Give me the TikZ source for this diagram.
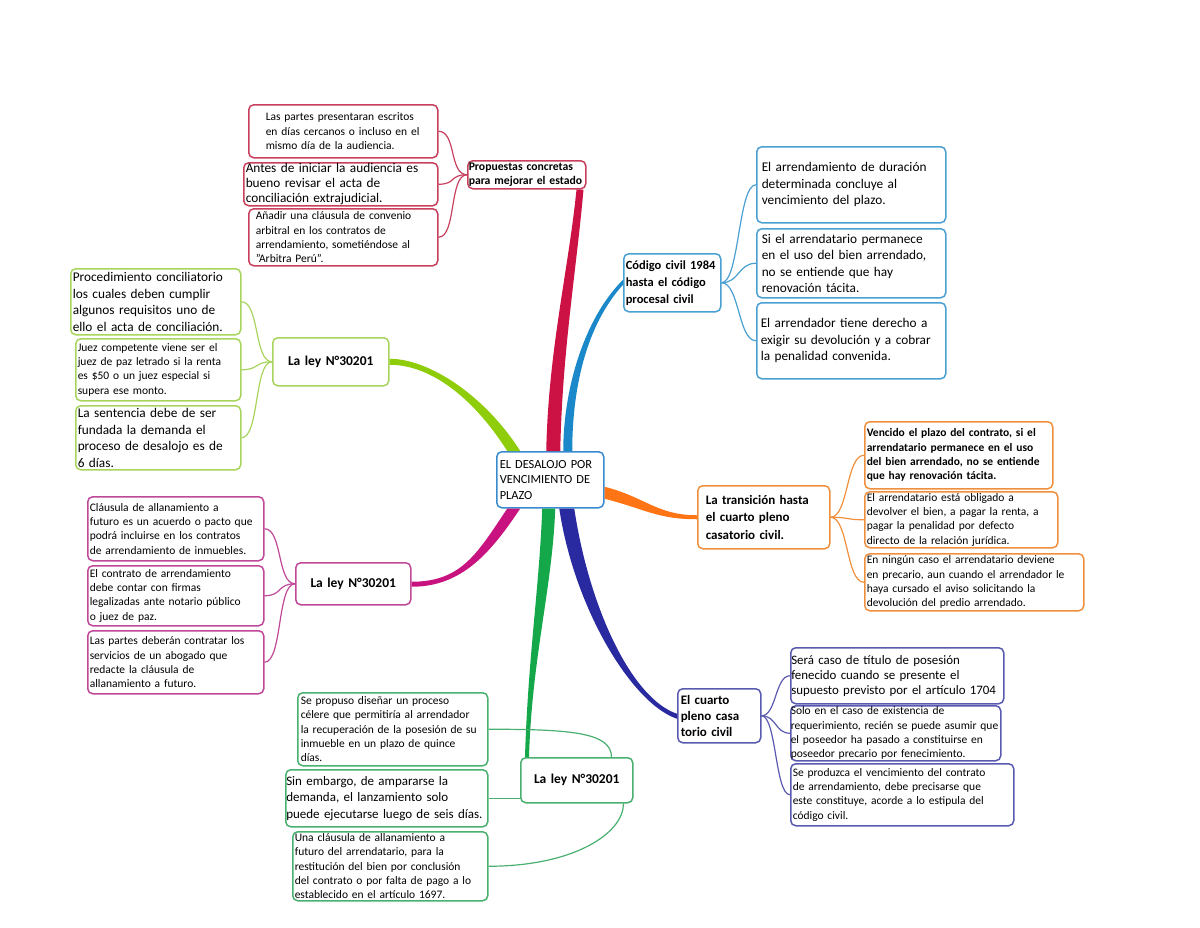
\documentclass[tikz,border=0pt]{standalone}
\usepackage{fontspec}
\setmainfont{Carlito}
\usetikzlibrary{positioning}

\definecolor{ramaRoja}{HTML}{CC1144}
\definecolor{ramaAzul}{HTML}{1A88C9}
\definecolor{ramaLima}{HTML}{8FCC0A}
\definecolor{ramaNaranja}{HTML}{FF7414}
\definecolor{ramaMagenta}{HTML}{C8127F}
\definecolor{ramaVerde}{HTML}{14A84A}
\definecolor{ramaMarino}{HTML}{2A2AA0}
\definecolor{bordeRojo}{HTML}{C8405E}
\definecolor{bordeAzul}{HTML}{4AA0D2}
\definecolor{bordeLima}{HTML}{A8D45E}
\definecolor{bordeNaranja}{HTML}{F0903E}
\definecolor{bordeMagenta}{HTML}{C04898}
\definecolor{bordeVerde}{HTML}{4AB070}
\definecolor{bordeMarino}{HTML}{5A5AB0}
\definecolor{bordeCentro}{HTML}{3A8AD0}

\tikzset{
  hoja/.style={draw, fill=white, rounded corners=5pt, line width=1.5pt,
    anchor=north west, align=left, inner xsep=2pt, inner ysep=1pt},
  caja/.style 2 args={text width=#1, minimum height=#2},
  chica/.style={font=\fontsize{11.5}{14.3}\selectfont},
  grande/.style={font=\fontsize{13.3}{16.5}\selectfont},
  titulo/.style={font=\fontsize{13.5}{17}\selectfont\bfseries, align=center},
  enlace/.style={line width=1.2pt},
}

\begin{document}
\begin{tikzpicture}[x=1pt, y=-1pt]
    \useasboundingbox (0,0) rectangle (1200,927);

    % tema central
    \node[hoja, draw=bordeCentro, caja={101pt}{56pt}, inner xsep=3pt,
      font=\fontsize{12.4}{15.5}\selectfont] (centro) at (496,451)
      {EL DESALOJO POR\\ VENCIMIENTO DE\\ PLAZO};

    % ramas principales
    \node[hoja, draw=bordeRojo, caja={116pt}{28pt}, inner xsep=1pt, inner ysep=0pt,
      font=\fontsize{11.7}{13.5}\selectfont\bfseries] (prop) at (467,160)
      {Propuestas concretas\\ para mejorar el estado};
    \node[hoja, draw=bordeAzul, caja={93pt}{58pt},
      font=\fontsize{12.5}{17}\selectfont\bfseries] (codigo) at (623,253)
      {Código civil 1984\\ hasta el código\\ procesal civil};
    \node[hoja, draw=bordeLima, caja={112pt}{48pt}, titulo] (leyA) at (272,337)
      {La ley N°30201};
    \node[hoja, draw=bordeNaranja, caja={116pt}{63pt}, inner xsep=8pt,
      font=\fontsize{13}{17.5}\selectfont\bfseries] (transicion) at (697,485)
      {La transición hasta\\ el cuarto pleno\\ casatorio civil.};
    \node[hoja, draw=bordeMagenta, caja={111pt}{42pt}, titulo] (leyB) at (295,562)
      {La ley N°30201};
    \node[hoja, draw=bordeMarino, caja={77pt}{54pt}, inner xsep=3pt,
      font=\fontsize{13}{16}\selectfont\bfseries] (pleno) at (677,688)
      {El cuarto\\ pleno casa\\ torio civil};
    \node[hoja, draw=bordeVerde, caja={108pt}{45pt}, titulo] (leyC) at (520,757)
      {La ley N°30201};

    % hojas de propuestas
    \node[hoja, draw=bordeRojo, chica, caja={155pt}{53pt}, inner xsep=17pt] (prop1) at (248,104)
      {Las partes presentaran escritos\\ en días cercanos o incluso en el\\ mismo día de la audiencia.};
    \node[hoja, draw=bordeRojo, caja={190pt}{43pt}, inner ysep=0pt,
      font=\fontsize{13.3}{14.8}\selectfont] (prop2) at (243,162)
      {Antes de iniciar la audiencia es\\ bueno revisar el acta de\\ conciliación extrajudicial.};
    \node[hoja, draw=bordeRojo, chica, caja={175pt}{57pt}, inner xsep=7pt] (prop3) at (248,208)
      {Añadir una cláusula de convenio\\ arbitral en los contratos de\\ arrendamiento, sometiéndose al\\ "Arbitra Perú".};

    % hojas del codigo civil
    \node[hoja, draw=bordeAzul, grande, caja={179pt}{76pt}, inner xsep=5pt] (cod1) at (756,146)
      {El arrendamiento de duración\\ determinada concluye al\\ vencimiento del plazo.};
    \node[hoja, draw=bordeAzul, grande, caja={179pt}{69pt}, inner xsep=5pt] (cod2) at (756,228)
      {Si el arrendatario permanece\\ en el uso del bien arrendado,\\ no se entiende que hay\\ renovación tácita.};
    \node[hoja, draw=bordeAzul, grande, caja={181pt}{76pt}, inner xsep=4pt] (cod3) at (756,302)
      {El arrendador tiene derecho a\\ exigir su devolución y a cobrar\\ la penalidad convenida.};

    % hojas de la ley (lima)
    \node[hoja, draw=bordeLima, grande, caja={166pt}{66pt}, inner ysep=0pt] (leyA1) at (70,268)
      {Procedimiento conciliatorio\\ los cuales deben cumplir\\ algunos requisitos uno de\\ ello el acta de conciliación.};
    \node[hoja, draw=bordeLima, chica, caja={161pt}{62pt}] (leyA2) at (75,338)
      {Juez competente viene ser el\\ juez de paz letrado si la renta\\ es \$50 o un juez especial si\\ supera ese monto.};
    \node[hoja, draw=bordeLima, grande, caja={161pt}{64pt}, inner ysep=0pt] (leyA3) at (75,405)
      {La sentencia debe de ser\\ fundada la demanda el\\ proceso de desalojo es de\\ 6 días.};

    % hojas de la transicion
    \node[hoja, draw=bordeNaranja, caja={184pt}{67pt},
      font=\fontsize{11.5}{14.3}\selectfont\bfseries] (tra1) at (864,421)
      {Vencido el plazo del contrato, si el\\ arrendatario permanece en el uso\\ del bien arrendado, no se entiende\\ que hay renovación tácita.};
    \node[hoja, draw=bordeNaranja, chica, caja={189pt}{56pt}, inner ysep=0pt] (tra2) at (864,491)
      {El arrendatario está obligado a\\ devolver el bien, a pagar la renta, a\\ pagar la penalidad por defecto\\ directo de la relación jurídica.};
    \node[hoja, draw=bordeNaranja, chica, caja={215pt}{57pt}, inner ysep=0pt] (tra3) at (864,553)
      {En ningún caso el arrendatario deviene\\ en precario, aun cuando el arrendador le\\ haya cursado el aviso solicitando la\\ devolución del predio arrendado.};

    % hojas de la ley (magenta)
    \node[hoja, draw=bordeMagenta, chica, caja={172pt}{64pt}] (leyB1) at (87,496)
      {Cláusula de allanamiento a\\ futuro es un acuerdo o pacto que\\ podrá incluirse en los contratos\\ de arrendamiento de inmuebles.};
    \node[hoja, draw=bordeMagenta, chica, caja={172pt}{60pt}] (leyB2) at (87,565)
      {El contrato de arrendamiento\\ debe contar con firmas\\ legalizadas ante notario público\\ o juez de paz.};
    \node[hoja, draw=bordeMagenta, chica, caja={172pt}{63pt}] (leyB3) at (87,630)
      {Las partes deberán contratar los\\ servicios de un abogado que\\ redacte la cláusula de\\ allanamiento a futuro.};

    % hojas del cuarto pleno
    \node[hoja, draw=bordeMarino, caja={212pt}{56pt}, inner xsep=0.5pt,
      font=\fontsize{12.9}{15}\selectfont] (ple1) at (790,647)
      {Será caso de título de posesión\\ fenecido cuando se presente el\\ supuesto previsto por el artículo 1704};
    \node[hoja, draw=bordeMarino, chica, caja={210pt}{55pt}, inner xsep=0pt, inner ysep=0pt] (ple2) at (790,705)
      {Solo en el caso de existencia de\\ requerimiento, recién se puede asumir que\\ el poseedor ha pasado a constituirse en\\ poseedor precario por fenecimiento.};
    \node[hoja, draw=bordeMarino, chica, caja={219pt}{62pt}] (ple3) at (790,763)
      {Se produzca el vencimiento del contrato\\ de arrendamiento, debe precisarse que\\ este constituye, acorde a lo estipula del\\ código civil.};

    % hojas de la ley (verde)
    \node[hoja, draw=bordeVerde, chica, caja={184pt}{73pt}, inner xsep=3pt] (leyC1) at (297,692)
      {Se propuso diseñar un proceso\\ célere que permitiría al arrendador\\ la recuperación de la posesión de su\\ inmueble en un plazo de quince\\ días.};
    \node[hoja, draw=bordeVerde, caja={201pt}{57pt}, inner xsep=0.5pt,
      font=\fontsize{13}{16.5}\selectfont] (leyC2) at (285,769)
      {Sin embargo, de ampararse la\\ demanda, el lanzamiento solo\\ puede ejecutarse luego de seis días.};
    \node[hoja, draw=bordeVerde, chica, caja={191pt}{69pt}, inner ysep=0pt] (leyC3) at (292,831)
      {Una cláusula de allanamiento a\\ futuro del arrendatario, para la\\ restitución del bien por conclusión\\ del contrato o por falta de pago a lo\\ establecido en el artículo 1697.};

    % ramas gruesas
    \fill[ramaRoja] ([xshift=-4pt]centro.north) .. controls +(2,-100) and +(-8,80) .. ([xshift=-10pt]prop.south east)
      -- ([xshift=-3pt]prop.south east) .. controls +(-7,80) and +(2,-100) .. ([xshift=10pt]centro.north) -- cycle;
    \fill[ramaAzul] ([xshift=13pt]centro.north) .. controls +(0,-60) and +(-40,40) .. ([yshift=3pt]codigo.west)
      -- ([yshift=-2pt]codigo.west) .. controls +(-38,42) and +(0,-60) .. ([xshift=22pt]centro.north) -- cycle;
    \fill[ramaLima] ([xshift=-30pt]centro.north) .. controls +(-35,-55) and +(40,0) .. ([yshift=3pt]leyA.east)
      -- ([yshift=-3pt]leyA.east) .. controls +(40,0) and +(-35,-55) .. ([xshift=-43pt]centro.north) -- cycle;
    \fill[ramaNaranja] ([yshift=-7pt]centro.east) .. controls +(40,10) and +(-40,0) .. ([yshift=2pt]transicion.west)
      -- ([yshift=-2pt]transicion.west) .. controls +(-40,0) and +(40,10) .. ([yshift=-19pt]centro.east) -- cycle;
    \fill[ramaMagenta] ([xshift=-43pt]centro.south) .. controls +(-30,45) and +(50,0) .. ([yshift=2pt]leyB.east)
      -- ([yshift=-3pt]leyB.east) .. controls +(50,0) and +(-30,45) .. ([xshift=-30pt]centro.south) -- cycle;
    \fill[ramaVerde] ([xshift=-8pt]centro.south) .. controls +(-3,80) and +(3,-100) .. ([xshift=5pt]leyC.north west)
      -- ([xshift=9pt]leyC.north west) .. controls +(3,-100) and +(-3,80) .. ([xshift=5pt]centro.south) -- cycle;
    \fill[ramaMarino] ([xshift=9pt]centro.south) .. controls +(15,100) and +(-45,-15) .. ([yshift=-3pt]pleno.west)
      -- ([yshift=2pt]pleno.west) .. controls +(-45,-15) and +(15,100) .. ([xshift=24pt]centro.south) -- cycle;

    % enlaces finos
    \foreach \hijo in {prop1,prop2,prop3}
      \draw[enlace, bordeRojo] (prop.west) .. controls +(-18,0) and +(18,0) .. (\hijo.east);
    \foreach \hijo in {cod1,cod2,cod3}
      \draw[enlace, bordeAzul] (codigo.east) .. controls +(18,0) and +(-18,0) .. (\hijo.west);
    \foreach \hijo in {leyA1,leyA2,leyA3}
      \draw[enlace, bordeLima] (leyA.west) .. controls +(-18,0) and +(18,0) .. (\hijo.east);
    \foreach \hijo in {tra1,tra2,tra3}
      \draw[enlace, bordeNaranja] (transicion.east) .. controls +(18,0) and +(-18,0) .. (\hijo.west);
    \foreach \hijo in {leyB1,leyB2,leyB3}
      \draw[enlace, bordeMagenta] (leyB.west) .. controls +(-18,0) and +(18,0) .. (\hijo.east);
    \foreach \hijo in {ple1,ple2,ple3}
      \draw[enlace, bordeMarino] (pleno.east) .. controls +(15,0) and +(-15,0) .. (\hijo.west);
    \draw[enlace, bordeVerde] (leyC1.east) .. controls +(80,0) and +(0,-25) .. ([xshift=-22pt]leyC.north east);
    \draw[enlace, bordeVerde] (leyC2.east) -- (leyC2.east -| leyC.west);
    \draw[enlace, bordeVerde] (leyC3.east) .. controls +(85,0) and +(0,30) .. ([xshift=-10pt]leyC.south east);
\end{tikzpicture}
\end{document}
